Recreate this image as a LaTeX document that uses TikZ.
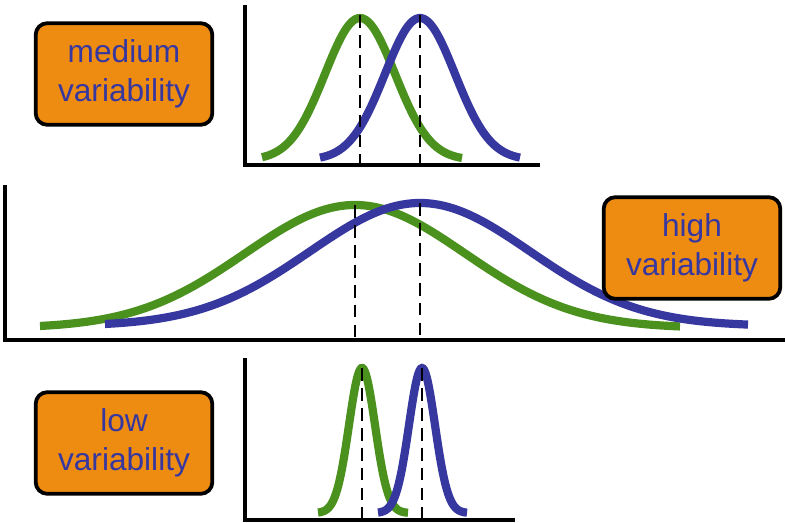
\documentclass[tikz,border=0pt]{standalone}
\usepackage{fontspec}
\setmainfont{Liberation Sans}
\definecolor{gr}{RGB}{75,145,30}
\definecolor{bl}{RGB}{55,55,160}
\definecolor{og}{RGB}{238,140,18}
\tikzset{
 ax/.style={line width=3.3pt},
 dsh/.style={line width=2.4pt,dash pattern=on 11pt off 6pt},
 cg/.style={line width=7pt,gr},
 cb/.style={line width=7pt,bl},
 lab/.style={draw=black,line width=3.2pt,fill=og,rounded corners=10pt,text=bl,font=\fontsize{27}{33}\selectfont,align=center,minimum width=5.3cm,minimum height=3.05cm,inner sep=0pt}
}
\begin{document}
\begin{tikzpicture}[x=0.03cm,y=-0.03cm]
\useasboundingbox (0,0) rectangle (785,522);
% top
\draw[ax] (245,5) -- (245,165) -- (540,165);
\draw[cg] plot[domain=262:462,samples=80,smooth] (\x,{160-142*exp(-0.5*((\x-360)/35)^2)});
\draw[cb] plot[domain=320:520,samples=80,smooth] (\x,{160-142*exp(-0.5*((\x-420)/35)^2)});
\draw[dsh] (360,15) -- (360,165);
\draw[dsh] (420,15) -- (420,165);
\node[lab] (m) at (124,74) {medium\\variability};
% middle
\draw[ax] (5,185) -- (5,340) -- (785,340);
\draw[cg] plot[domain=40:680,samples=120,smooth] (\x,{328-123*exp(-0.5*((\x-355)/110)^2)});
\draw[cb] plot[domain=105:748,samples=120,smooth] (\x,{326-123*exp(-0.5*((\x-420)/110)^2)});
\draw[dsh] (355,205) -- (355,340);
\draw[dsh] (420,203) -- (420,340);
\node[lab] (h) at (692,248) {high\\variability};
% bottom
\draw[ax] (245,358) -- (245,520) -- (515,520);
\draw[cg] plot[domain=318:408,samples=80,smooth] (\x,{513-145*exp(-0.5*((\x-362)/13)^2)});
\draw[cb] plot[domain=378:467,samples=80,smooth] (\x,{513-145*exp(-0.5*((\x-422)/13)^2)});
\draw[dsh] (362,368) -- (362,520);
\draw[dsh] (422,368) -- (422,520);
\node[lab] (l) at (124,443) {low\\variability};
\end{tikzpicture}
\end{document}
